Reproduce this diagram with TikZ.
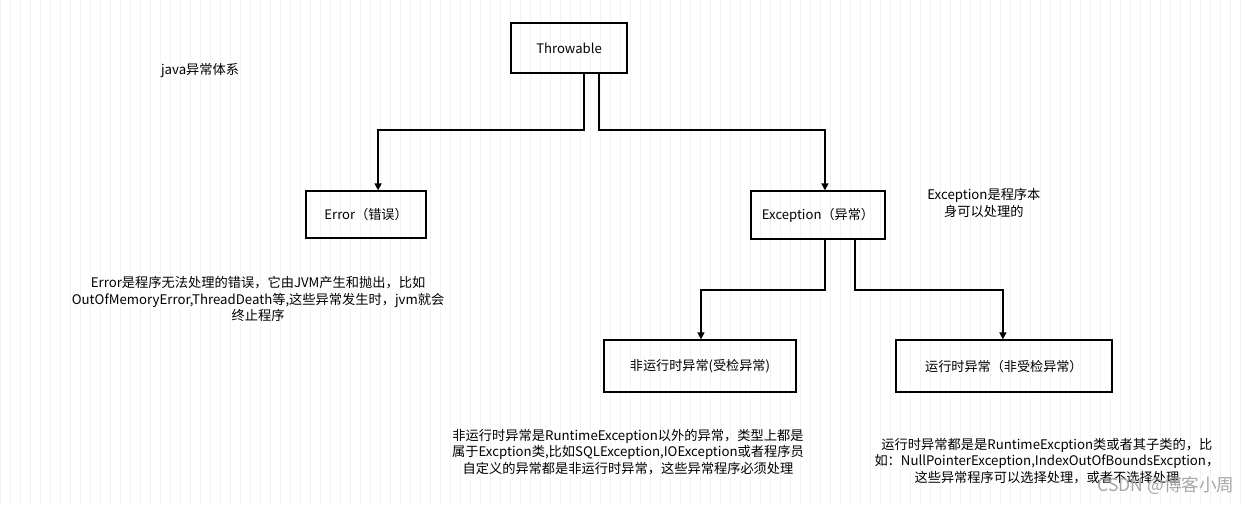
\documentclass[tikz,border=0pt]{standalone}
\usepackage{fontspec}
\setmainfont{Noto Sans CJK SC}
\usetikzlibrary{arrows.meta}
\begin{document}
\begin{tikzpicture}[x=0.03cm,y=-0.03cm,
  box/.style={draw,line width=1.3pt,minimum width=#1,inner sep=0pt,font=\fontsize{11.2}{13}\selectfont},
  con/.style={line width=1.3pt,-{Triangle[width=6pt,length=6pt]}},
  txt/.style={align=center,font=\fontsize{11.3}{14.3}\selectfont,inner sep=0pt}]
\fill[white] (0,0) rectangle (1245,504);
\draw[black!5,line width=0.3pt] (0,0) grid[step=10] (1245,504);
\useasboundingbox (0,0) rectangle (1245,504);
\node[box, minimum width=116*0.03cm, minimum height=50*0.03cm] (t) at (569,48) {Throwable};
\node[box, minimum width=120*0.03cm, minimum height=47*0.03cm] (e) at (366,214.5) {Error（错误）};
\node[box, minimum width=134*0.03cm, minimum height=48*0.03cm] (x) at (818,215) {Exception（异常）};
\node[box, minimum width=192*0.03cm, minimum height=52*0.03cm] (n) at (700,366) {非运行时异常(受检异常)};
\node[box, minimum width=216*0.03cm, minimum height=52*0.03cm] (r) at (1004,366) {运行时异常（非受检异常）};
\coordinate (c1) at (584,130); \coordinate (c2) at (599,130);
\coordinate (c3) at (825,290); \coordinate (c4) at (855,290);
\draw[con] (t.south -| c1) -- (c1) -| (e.north -| 378,0);
\draw[con] (t.south -| c2) -- (c2) -| (x.north -| 825,0);
\draw[con] (x.south -| c3) -- (c3) -| (n.north -| 701,0);
\draw[con] (x.south -| c4) -- (c4) -| (r.north -| 1003,0);
\node[txt] (l0) at (200,70) {java异常体系};
\node[txt] (l1) at (984,203) {Exception是程序本\\身可以处理的};
\node[txt] (l2) at (258,299) {Error是程序无法处理的错误，它由JVM产生和抛出，比如\\OutOfMemoryError,ThreadDeath等,这些异常发生时，jvm就会\\终止程序};
\node[txt] (l3) at (628,452) {非运行时异常是RuntimeException以外的异常，类型上都是\\属于Excption类,比如SQLException,IOException或者程序员\\自定义的异常都是非运行时异常，这些异常程序必须处理};
\node[txt] (l4) at (1047,461) {运行时异常都是是RuntimeExcption类或者其子类的，比\\如：NullPointerException,IndexOutOfBoundsExcption，\\这些异常程序可以选择处理，或者不选择处理};
\node[txt,text=black!35,font=\fontsize{15}{17}\selectfont] (w) at (1166,486) {CSDN @博客小周};
\end{tikzpicture}
\end{document}
